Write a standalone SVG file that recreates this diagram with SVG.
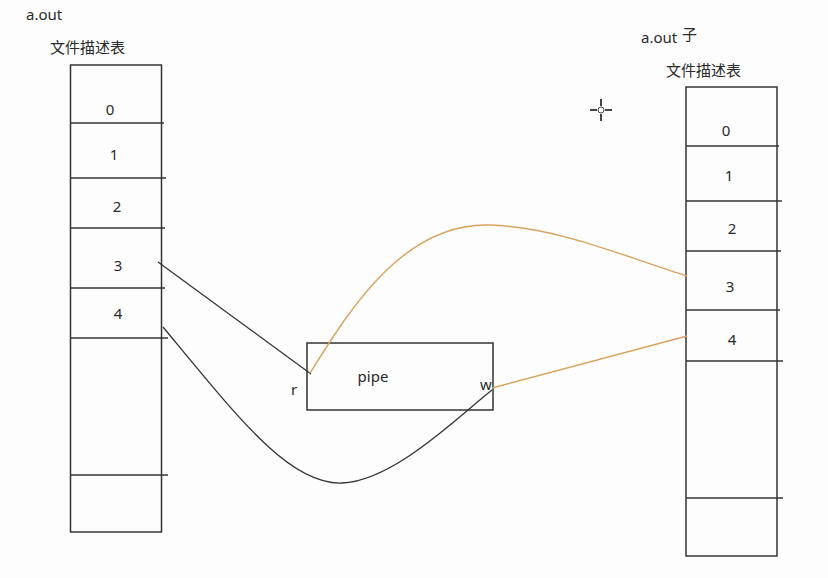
<svg xmlns="http://www.w3.org/2000/svg" width="828" height="578" viewBox="0 0 828 578">
<style>
.box{fill:none;stroke:#333;stroke-width:1.5}
.rule{stroke:#333;stroke-width:1.5}
.t{font-family:"Noto Sans","Noto Sans CJK SC",sans-serif;font-size:15px;fill:#2a2a2a}
.cn{font-family:"Noto Sans CJK SC","Noto Sans",sans-serif;font-size:15px;fill:#2a2a2a}
.blk{fill:none;stroke:#333;stroke-width:1.3}
.org{fill:none;stroke:#d8a35e;stroke-width:1.4}
</style>
<rect width="828" height="578" fill="#fdfdfd"/>
<g id="left-table">
<text class="t" x="26" y="20" font-size="13">a.out</text>
<text class="cn" x="50" y="53">文件描述表</text>
<rect class="box" x="70.5" y="65" width="91" height="467"/>
<line class="rule" x1="70" y1="123" x2="164" y2="123"/>
<line class="rule" x1="70" y1="178" x2="166" y2="178"/>
<line class="rule" x1="70" y1="228" x2="165" y2="228"/>
<line class="rule" x1="70" y1="288" x2="165" y2="288"/>
<line class="rule" x1="70" y1="338" x2="168" y2="338"/>
<line class="rule" x1="70" y1="475" x2="168" y2="475"/>
<text class="t" x="110" y="115" text-anchor="middle">0</text>
<text class="t" x="114" y="160" text-anchor="middle">1</text>
<text class="t" x="117" y="212" text-anchor="middle">2</text>
<text class="t" x="118" y="271" text-anchor="middle">3</text>
<text class="t" x="118" y="319" text-anchor="middle">4</text>
</g>
<g id="right-table">
<text class="t" x="641" y="43" font-size="13">a.out</text>
<text class="cn" x="682" y="40" font-size="15">子</text>
<text class="cn" x="666" y="76">文件描述表</text>
<rect class="box" x="686" y="87" width="91" height="469"/>
<line class="rule" x1="686" y1="146" x2="779" y2="146"/>
<line class="rule" x1="686" y1="201" x2="782" y2="201"/>
<line class="rule" x1="686" y1="251" x2="781" y2="251"/>
<line class="rule" x1="686" y1="310" x2="780" y2="310"/>
<line class="rule" x1="686" y1="361" x2="783" y2="361"/>
<line class="rule" x1="686" y1="498" x2="783" y2="498"/>
<text class="t" x="726" y="136" text-anchor="middle">0</text>
<text class="t" x="729" y="181" text-anchor="middle">1</text>
<text class="t" x="732" y="234" text-anchor="middle">2</text>
<text class="t" x="730" y="292" text-anchor="middle">3</text>
<text class="t" x="732" y="345" text-anchor="middle">4</text>
</g>
<g id="pipe">
<rect class="box" x="307" y="343" width="186" height="67"/>
<text class="t" x="373" y="382" text-anchor="middle">pipe</text>
<text class="t" x="294" y="395" text-anchor="middle">r</text>
<text class="t" x="486" y="390" text-anchor="middle">w</text>
</g>
<g id="connectors">
<path class="blk" d="M158,262 L311,374"/>
<path class="blk" d="M163,327 C240,420 290,485 342,483 S460,415 492,390"/>
<path class="org" d="M310,373 C345,318 400,222 490,225 C560,228 620,255 687,276"/>
<path class="org" d="M492,388 L687,336"/>
</g>
<g id="cursor" stroke="#444" stroke-width="2">
<line x1="590" y1="110" x2="597" y2="110"/>
<line x1="605" y1="110" x2="612" y2="110"/>
<line x1="601" y1="99" x2="601" y2="106"/>
<line x1="601" y1="114" x2="601" y2="121"/>
<circle cx="601" cy="110" r="3" fill="none" stroke-width="1"/>
</g>
</svg>
